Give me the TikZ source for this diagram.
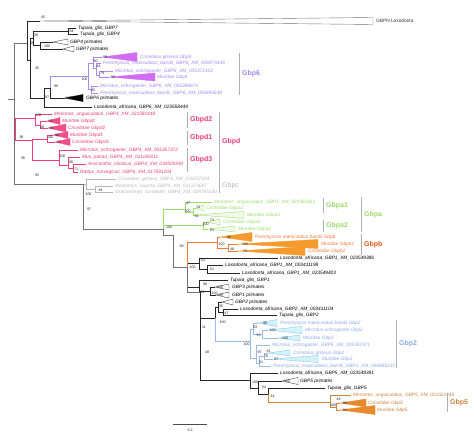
\documentclass[tikz,border=0pt]{standalone}
\usepackage{fontspec}
\setmainfont{Liberation Sans}
\definecolor{pu}{HTML}{A68AF0}
\definecolor{puf}{HTML}{D26CF2}
\definecolor{pk}{HTML}{EE3D78}
\definecolor{pkf}{HTML}{F0508A}
\definecolor{gc}{HTML}{B8B8B8}
\definecolor{gr}{HTML}{9ADD6A}
\definecolor{grf}{HTML}{F0FAE8}
\definecolor{orl}{HTML}{F07A3C}
\definecolor{orf}{HTML}{F59A2C}
\definecolor{orT}{HTML}{E8551E}
\definecolor{bl}{HTML}{9DB9EE}
\definecolor{blf}{HTML}{D4F2FA}
\definecolor{blt}{HTML}{8AAAE8}
\definecolor{brn}{HTML}{CC843A}
\definecolor{brf}{HTML}{E8892E}
\definecolor{brk}{HTML}{B0B0B0}
\newcounter{svc}
\newcommand\tipl[5]{\coordinate (#1) at (#2,#3); \node[lab,text=#4] (#1-t) at (#2+2,#3) {#5};}
\newcommand\ctri[6]{\coordinate (#1) at (#2,#3); \draw[#6] (#1) -- (#4,#3-#5) -- (#4,#3+#5) -- cycle;}
\newcommand\tlab[5]{\node[lab,text=#4] (#1) at (#2,#3) {#5};}
\newcommand\sv[3]{\stepcounter{svc}\node[sup] (sv\arabic{svc}) at (#1,#2) {#3};}
\newcommand\grp[6]{\draw[brkline] (#2,#3) -- (#2,#4); \node[grplab,text=#5] (#1) at (#2+3,{(#3+#4)/2}) {#6};}
\begin{document}
\begin{tikzpicture}[x=1bp,y=-1bp,
  bk/.style={draw=black!85,line width=0.4pt},
  bb/.style={draw=black!55,line width=0.9pt},
  pl/.style={draw=pu,line width=0.45pt},
  pkl/.style={draw=pk,line width=0.5pt},
  gcl/.style={draw=gc,line width=0.45pt},
  grl/.style={draw=gr,line width=0.45pt},
  orline/.style={draw=orl,line width=0.5pt},
  bll/.style={draw=bl,line width=0.45pt},
  brl/.style={draw=brn,line width=0.5pt},
  wtri/.style={draw=black!80,fill=white,line width=0.35pt},
  ktri/.style={draw=black,fill=black,line width=0.35pt},
  ptri/.style={draw=puf,fill=puf,line width=0.35pt},
  pktri/.style={draw=pkf,fill=pkf,line width=0.35pt},
  gtri/.style={draw=gr,fill=grf,line width=0.35pt},
  otri/.style={draw=orf,fill=orf,line width=0.35pt},
  btri/.style={draw=bl!80!cyan,fill=blf,line width=0.35pt},
  brtri/.style={draw=brf,fill=brf,line width=0.35pt},
  lab/.style={anchor=west,inner sep=0pt,font=\fontsize{4.8}{5}\selectfont\itshape},
  sup/.style={inner sep=0pt,font=\fontsize{3.6}{4}\selectfont,text=black!85},
  brkline/.style={draw=brk,line width=0.8pt},
  grplab/.style={anchor=west,inner sep=0pt,font=\fontsize{7}{7}\selectfont\bfseries}]
\useasboundingbox (0,0) rectangle (474,441);
\fill[white] (0,0) rectangle (474,441);
% ---------- root and top clade
\coordinate (r0) at (8,99); \coordinate (r) at (14,99);
\coordinate (t1) at (27,43); \coordinate (t2) at (30,60);
\coordinate (t3) at (33,38); \coordinate (t4) at (44,98);
\coordinate (tup) at (68,31); \coordinate (prim) at (40,45);
\coordinate (n96) at (50,88);
\draw[bb] (r0) -- (r);
\draw[bb] (r) |- (t1);
\ctri{gn}{40}{21}{373}{3.5}{draw=black!55,fill=white,line width=0.4pt}
\node[lab,font=\fontsize{4.8}{5}\selectfont,text=black!80] (gn-t) at (376,20.5) {GBPN Loxodonta};
\draw[bk] (t1) |- (gn);
\draw[bk] (t1) |- (t2);
\draw[bk] (t2) |- (t3);
\draw[bk] (t2) |- (t4);
\draw[bk] (t3) |- (tup);
\draw[bk] (t3) |- (prim);
\tipl{tg7}{76}{28}{black}{Tupaia\_glis\_GBP7}
\tipl{tg4}{78}{34}{black}{Tupaia\_glis\_GBP4}
\draw[bk] (tup) |- (tg7); \draw[bk] (tup) |- (tg4);
\ctri{p4}{53}{42}{68}{3}{wtri} \tlab{p4-t}{70}{42}{black}{GBP4 primates}
\ctri{p7}{63}{49}{74}{3}{wtri} \tlab{p7-t}{76}{49}{black}{GBP7 primates}
\draw[bk] (prim) |- (p4); \draw[bk] (prim) |- (p7);
\draw[bk] (t4) |- (n96);
\ctri{p6}{65}{98}{83}{3.5}{ktri} \tlab{p6-t}{86}{98}{black}{GBP6 primates}
\draw[bk] (n96) |- (p6);
\tipl{lox6}{92}{107}{black}{Loxodonta\_africana\_GBP6\_XM\_023558444}
\draw[bk] (t4) |- (lox6);
\sv{43}{17.5}{45} \sv{71.5}{31.5}{84} \sv{36}{35}{39} \sv{32.5}{43.5}{96}
\sv{47}{46.5}{100} \sv{37}{68}{40} \sv{56}{86}{96} \sv{47}{97.5}{97} \sv{69}{98}{100}
% ---------- Gbp6 (purple)
\coordinate (g6) at (88,76); \coordinate (g6a) at (93,63); \coordinate (g6b) at (91,89);
\coordinate (g6c) at (96,68); \coordinate (g6d) at (99,75);
\draw[pl] (n96) |- (g6);
\draw[pl] (g6) |- (g6a); \draw[pl] (g6) |- (g6b);
\draw[pl] (g6a) |- (g6c); \draw[pl] (g6c) |- (g6d);
\ctri{cg6}{102}{57}{137}{4.5}{ptri} \tlab{cg6-t}{140}{57}{pu}{Cricetulus griseus Gbp6}
\draw[pl] (g6a) |- (cg6);
\tipl{pm6}{101}{63}{pu}{Peromyscus\_maniculatus\_bairdii\_GBP6\_XM\_006975435}
\draw[pl] (g6c) |- (pm6);
\tipl{mo6}{113}{71}{pu}{Microtus\_ochrogaster\_GBP6\_XM\_005372102}
\draw[pl] (g6d) |- (mo6);
\ctri{mu6}{110}{77}{155}{4}{ptri} \tlab{mu6-t}{157}{77}{pu}{Muridae Gbp6}
\draw[pl] (g6d) |- (mu6);
\tipl{mo6b}{98}{86}{pu}{Microtus\_ochrogaster\_GBP6\_XM\_005398674}
\tipl{pm6b}{98}{93}{pu}{Peromyscus\_maniculatus\_bairdii\_GBP6\_XM\_006985648}
\draw[pl] (g6b) |- (mo6b); \draw[pl] (g6b) |- (pm6b);
\sv{105}{57}{78} \sv{95.5}{61}{80} \sv{98.5}{66.5}{44} \sv{102}{73.5}{79}
\sv{113}{77}{99} \sv{84.5}{79}{100} \sv{93}{90.5}{45}
% ---------- Gbpd (pink)
\coordinate (G) at (15.5,128); \coordinate (d2) at (35,118); \coordinate (d2b) at (40,125);
\coordinate (d13) at (32,140); \coordinate (d1) at (47,139);
\coordinate (d3) at (59,160); \coordinate (d3b) at (68,165); \coordinate (d3c) at (73,168);
\coordinate (b3) at (83,184);
\draw[bb] (r) |- (b3);
\draw[pkl] (G) |- (d2); \draw[pkl] (G) |- (d13);
\draw[pkl] (d2) |- (d2b);
\tipl{mer4}{52}{114}{pk}{Meriones\_unguiculatus\_GBP4\_XM\_021081448}
\draw[pkl] (d2) |- (mer4);
\ctri{md2}{47}{121}{60}{3.5}{pktri} \tlab{md2-t}{62}{121}{pk}{Muridae Gbpd2}
\ctri{cd2}{48}{128}{66}{4}{pktri} \tlab{cd2-t}{68}{128}{pk}{Cricetidae Gbpd2}
\draw[pkl] (d2b) |- (md2); \draw[pkl] (d2b) |- (cd2);
\draw[pkl] (d13) |- (d1); \draw[pkl] (d13) |- (d3);
\ctri{md1}{53}{135}{68}{3.5}{pktri} \tlab{md1-t}{70}{135}{pk}{Muridae Gbpd1}
\ctri{cd1}{55}{142}{70}{3.5}{pktri} \tlab{cd1-t}{72}{142}{pk}{Cricetidae Gbpd1}
\draw[pkl] (d1) |- (md1); \draw[pkl] (d1) |- (cd1);
\tipl{mo4}{78}{150}{pk}{Microtus\_ochrogaster\_GBP4\_XM\_005357372}
\tipl{mp4}{80}{157}{pk}{Mus\_pahari\_GBP4\_XM\_021185011}
\tipl{an4}{86}{164}{pk}{Arvicanthis\_niloticus\_GBP4\_XM\_034500940}
\tipl{rn6}{78}{172}{pk}{Rattus\_norvegicus\_GBP6\_XM\_017591204}
\draw[pkl] (d3) |- (mo4); \draw[pkl] (d3) |- (d3b);
\draw[pkl] (d3b) |- (mp4); \draw[pkl] (d3b) |- (d3c);
\draw[pkl] (d3c) |- (an4); \draw[pkl] (d3c) |- (rn6);
\sv{38.5}{115.5}{100} \sv{42}{127}{48} \sv{50.5}{121}{92} \sv{51.5}{128}{96}
\sv{50}{137.5}{100} \sv{57}{135}{99} \sv{59}{142}{97}
\sv{21.5}{137.5}{98} \sv{62.5}{156.5}{100} \sv{71}{162.5}{96} \sv{76}{169}{71}
\sv{23}{158}{38} \sv{37}{175}{93}
% ---------- Gbpc (gray)
\coordinate (c) at (86,184); \coordinate (c2) at (95,189);
\draw[gcl] (b3) -- (c);
\tipl{cg4}{116}{179}{gc}{Cricetulus\_griseus\_GBP4\_XM\_035437594}
\tipl{mc4}{113}{186}{gc}{Mastomys\_coucha\_GBP4\_XM\_031373697}
\tipl{gs4}{113}{192}{gc}{Grammomys\_surdaster\_GBP4\_XM\_028765140}
\draw[gcl] (c) |- (cg4); \draw[gcl] (c) |- (c2);
\draw[gcl] (c2) |- (mc4); \draw[gcl] (c2) |- (gs4);
\sv{100.5}{190.5}{84} \sv{88.5}{194}{100} \sv{89}{209}{97}
% ---------- Gbpa (green)
\coordinate (b4) at (163,229);
\draw[bb] (b3) |- (b4);
\coordinate (a1) at (185,209); \coordinate (a1b) at (193,212); \coordinate (a2) at (203,225);
\draw[grl] (b4) |- (a1); \draw[grl] (b4) |- (a2);
\tipl{mer1}{212}{202}{gr}{Meriones\_unguiculatus\_GBP1\_XM\_021061462}
\draw[grl] (a1) |- (mer1); \draw[grl] (a1) |- (a1b);
\ctri{ca1}{196}{208}{204}{3}{gtri} \tlab{ca1-t}{206}{208}{gr}{Cricetidae Gbpa1}
\ctri{ma1}{196}{215}{244}{3.5}{gtri} \tlab{ma1-t}{247}{215}{gr}{Muridae Gbpa1}
\draw[grl] (a1b) |- (ca1); \draw[grl] (a1b) |- (ma1);
\ctri{ca2}{207}{222}{220}{3}{gtri} \tlab{ca2-t}{223}{222}{gr}{Cricetidae Gbpa2}
\ctri{ma2}{208}{229}{235}{3}{gtri} \tlab{ma2-t}{238}{229}{gr}{Muridae Gbpa2}
\draw[grl] (a2) |- (ca2); \draw[grl] (a2) |- (ma2);
\sv{188}{203}{47} \sv{187.5}{211}{100} \sv{198}{207}{74} \sv{196.5}{216.5}{99}
\sv{212}{220.5}{73} \sv{205.5}{224.5}{100} \sv{212}{230.5}{61} \sv{169}{227.5}{100}
% ---------- backbone to Gbpb and GBP1/3 block
\coordinate (b5) at (173,235); \coordinate (b6) at (187,267);
\coordinate (o) at (217,242); \coordinate (ob) at (228,248);
\coordinate (L) at (199,263); \coordinate (L2) at (207,269);
\coordinate (T) at (199,287); \coordinate (T2) at (210,291); \coordinate (b7) at (200,292);
\draw[bb] (b4) |- (b5);
\draw[bb] (b5) |- (b6);
\draw[bk] (b6) |- (L); \draw[bk] (b6) |- (T);
\draw[bb] (b6) |- (b7);
\draw[orline] (b6) |- (o);
\draw[orline] (o) |- (ob);
\ctri{pb}{220}{237}{252}{4.5}{otri} \tlab{pb-t}{255}{237}{orl}{Peromyscus maniculatus bairdii Gbpb}
\ctri{mb1}{238}{244}{318}{4.5}{otri} \tlab{mb1-t}{321}{244}{orl}{Muridae Gbpb1}
\ctri{cb2}{238}{251}{305}{4.5}{otri} \tlab{cb2-t}{308}{251}{orl}{Cricetidae Gbpb2}
\draw[orline] (o) |- (pb); \draw[orline] (ob) |- (mb1); \draw[orline] (ob) |- (cb2);
\sv{181.5}{246}{99} \sv{221.5}{244.5}{100} \sv{232}{249.5}{48}
\sv{229}{237}{86} \sv{245}{244}{100} \sv{245}{251}{70}
\tipl{la}{278}{258}{black}{Loxodonta\_africana\_GBP1\_XM\_023549386}
\tipl{lb}{223}{265}{black}{Loxodonta\_africana\_GBP1\_XM\_003411198}
\tipl{lc}{240}{273}{black}{Loxodonta\_africana\_GBP1\_XM\_023549403}
\draw[bk] (L) |- (la); \draw[bk] (L) |- (L2);
\draw[bk] (L2) |- (lb); \draw[bk] (L2) |- (lc);
\tipl{tu1}{228}{280}{black}{Tupaia\_glis\_GBP1}
\ctri{g3p}{215}{287}{229}{3}{wtri} \tlab{g3p-t}{232}{287}{black}{GBP3 primates}
\ctri{g1p}{216}{295}{229}{3}{wtri} \tlab{g1p-t}{232}{295}{black}{GBP1 primates}
\draw[bk] (T) |- (tu1); \draw[bk] (T) |- (T2);
\draw[bk] (T2) |- (g3p); \draw[bk] (T2) |- (g1p);
\sv{192.5}{267}{100} \sv{203}{260.5}{52} \sv{212}{269.5}{61}
\sv{205}{284.5}{98} \sv{202.5}{292.5}{91} \sv{214.5}{293}{100} \sv{220}{287}{100} \sv{221}{295}{96}
% ---------- GBP2 block and Gbp2 (blue)
\coordinate (K) at (215,318); \coordinate (M) at (218,307); \coordinate (M2) at (223,312);
\draw[bk] (b7) |- (K); \draw[bk] (K) |- (M);
\ctri{g2p}{222}{302}{233}{3}{wtri} \tlab{g2p-t}{235}{302}{black}{GBP2 primates}
\tipl{lox2}{238}{309}{black}{Loxodonta\_africana\_GBP2\_XM\_003411104}
\tipl{tu2}{277}{315}{black}{Tupaia\_glis\_GBP2}
\draw[bk] (M) |- (g2p); \draw[bk] (M) |- (M2);
\draw[bk] (M2) |- (lox2); \draw[bk] (M2) |- (tu2);
\coordinate (Q) at (250,341); \coordinate (Q1) at (253,329); \coordinate (Q1b) at (262,334);
\coordinate (Q2) at (256,358); \coordinate (Q2b) at (259,363); \coordinate (Q2c) at (264,356);
\draw[bll] (K) |- (Q);
\draw[bll] (Q) |- (Q1); \draw[bll] (Q) |- (Q2);
\ctri{pg2}{258}{323}{277}{3.5}{btri} \tlab{pg2-t}{280}{323}{blt}{Peromyscus maniculatus bairdii Gbp2}
\ctri{mg2}{268}{330}{302}{3.5}{btri} \tlab{mg2-t}{305}{330}{blt}{Microtus ochrogaster Gbp2}
\ctri{mug2}{278}{338}{300}{3}{btri} \tlab{mug2-t}{303}{338}{blt}{Muridae Gbp2}
\draw[bll] (Q1) |- (pg2); \draw[bll] (Q1) |- (Q1b);
\draw[bll] (Q1b) |- (mg2); \draw[bll] (Q1b) |- (mug2);
\tipl{mo5}{270}{345}{blt}{Microtus\_ochrogaster\_GBP5\_XM\_005357371}
\draw[bll] (Q2) |- (mo5); \draw[bll] (Q2) |- (Q2b);
\ctri{cgg2}{268}{353}{290}{3}{btri} \tlab{cgg2-t}{293}{353}{blt}{Cricetulus griseus Gbp2}
\ctri{mgg2}{273}{359}{318}{3.5}{btri} \tlab{mgg2-t}{322}{359}{blt}{Muridae Gbp2}
\tipl{pm1}{271}{366}{blt}{Peromyscus\_maniculatus\_bairdii\_GBP1\_XM\_006985135}
\draw[bll] (Q2b) |- (Q2c); \draw[bll] (Q2b) |- (pm1);
\draw[bll] (Q2c) |- (cgg2); \draw[bll] (Q2c) |- (mgg2);
\sv{204}{327}{11} \sv{221}{306}{36} \sv{226.5}{313}{47} \sv{222.5}{322.5}{100}
\sv{265}{323}{98} \sv{255}{327.5}{93} \sv{258.5}{335.5}{63} \sv{272.5}{330.5}{100} \sv{285}{338}{100}
\sv{246.5}{344.5}{100} \sv{259.5}{352}{97} \sv{268.5}{351.5}{91} \sv{266}{356.5}{76}
\sv{276}{359}{97} \sv{261}{362}{61}
% ---------- GBP5 block and Gbp5 (brown)
\coordinate (F) at (250,380); \coordinate (F2) at (258,388); \coordinate (F3) at (268,394);
\coordinate (H) at (330,402); \coordinate (H2) at (336,407);
\draw[bk] (b7) |- (F);
\tipl{lox5}{278}{373}{black}{Loxodonta\_africana\_GBP5\_XM\_023549391}
\ctri{g5p}{282}{381}{298}{3.5}{wtri} \tlab{g5p-t}{300}{381}{black}{GBP5 primates}
\tipl{tu5}{325}{388}{black}{Tupaia\_glis\_GBP5}
\draw[bk] (F) |- (lox5); \draw[bk] (F) |- (F2);
\draw[bk] (F2) |- (g5p); \draw[bk] (F2) |- (F3);
\draw[bk] (F3) |- (tu5); \draw[brl] (F3) |- (H);
\tipl{mer5}{351}{395}{brn}{Meriones\_unguiculatus\_GBP5\_XM\_021021445}
\ctri{cg5}{340}{403}{366}{4}{brtri} \tlab{cg5-t}{368}{403}{brn}{Cricetidae Gbp5}
\ctri{mg5}{340}{410}{375}{4.5}{brtri} \tlab{mg5-t}{377}{410}{brn}{Muridae Gbp5}
\draw[brl] (H) |- (mer5); \draw[brl] (H) |- (H2);
\draw[brl] (H2) |- (cg5); \draw[brl] (H2) |- (mg5);
\sv{207}{352.5}{48} \sv{255}{382.5}{100} \sv{264}{387}{54} \sv{272.5}{396.5}{44}
\sv{287}{381}{100} \sv{338.5}{399}{49} \sv{333}{405.5}{100} \sv{345}{403}{99} \sv{345}{410}{84}
% ---------- brackets and group labels
\grp{Lg6}{239}{53}{95}{pu}{Gbp6}
\grp{Ld2}{187}{112}{128}{pk}{Gbpd2}
\grp{Ld1}{187}{131}{145}{pk}{Gbpd1}
\grp{Ld3}{187}{148}{172}{pk}{Gbpd3}
\grp{Ld}{219}{112}{172}{pk}{Gbpd}
\draw[brkline] (219,170) -- (219,193);
\node[grplab,font=\fontsize{7}{7}\selectfont,text=gc] (Lc) at (222,186) {Gbpc};
\grp{La1}{323}{198}{213}{gr}{Gbpa1}
\grp{La2}{323}{220}{232}{gr}{Gbpa2}
\grp{La}{361}{197}{232}{gr}{Gbpa}
\grp{Lb}{361}{234}{255}{orT}{Gbpb}
\grp{L2}{396}{320}{368}{blt}{Gbp2}
\grp{L5}{447}{393}{412}{brn}{Gbp5}
% ---------- scale bar
\coordinate (sb1) at (173,424); \coordinate (sb2) at (207,424);
\draw[black!70,line width=0.5pt] (sb1) -- (sb2);
\node[sup] (sbl) at (190,430) {0.2};
\end{tikzpicture}
\end{document}
